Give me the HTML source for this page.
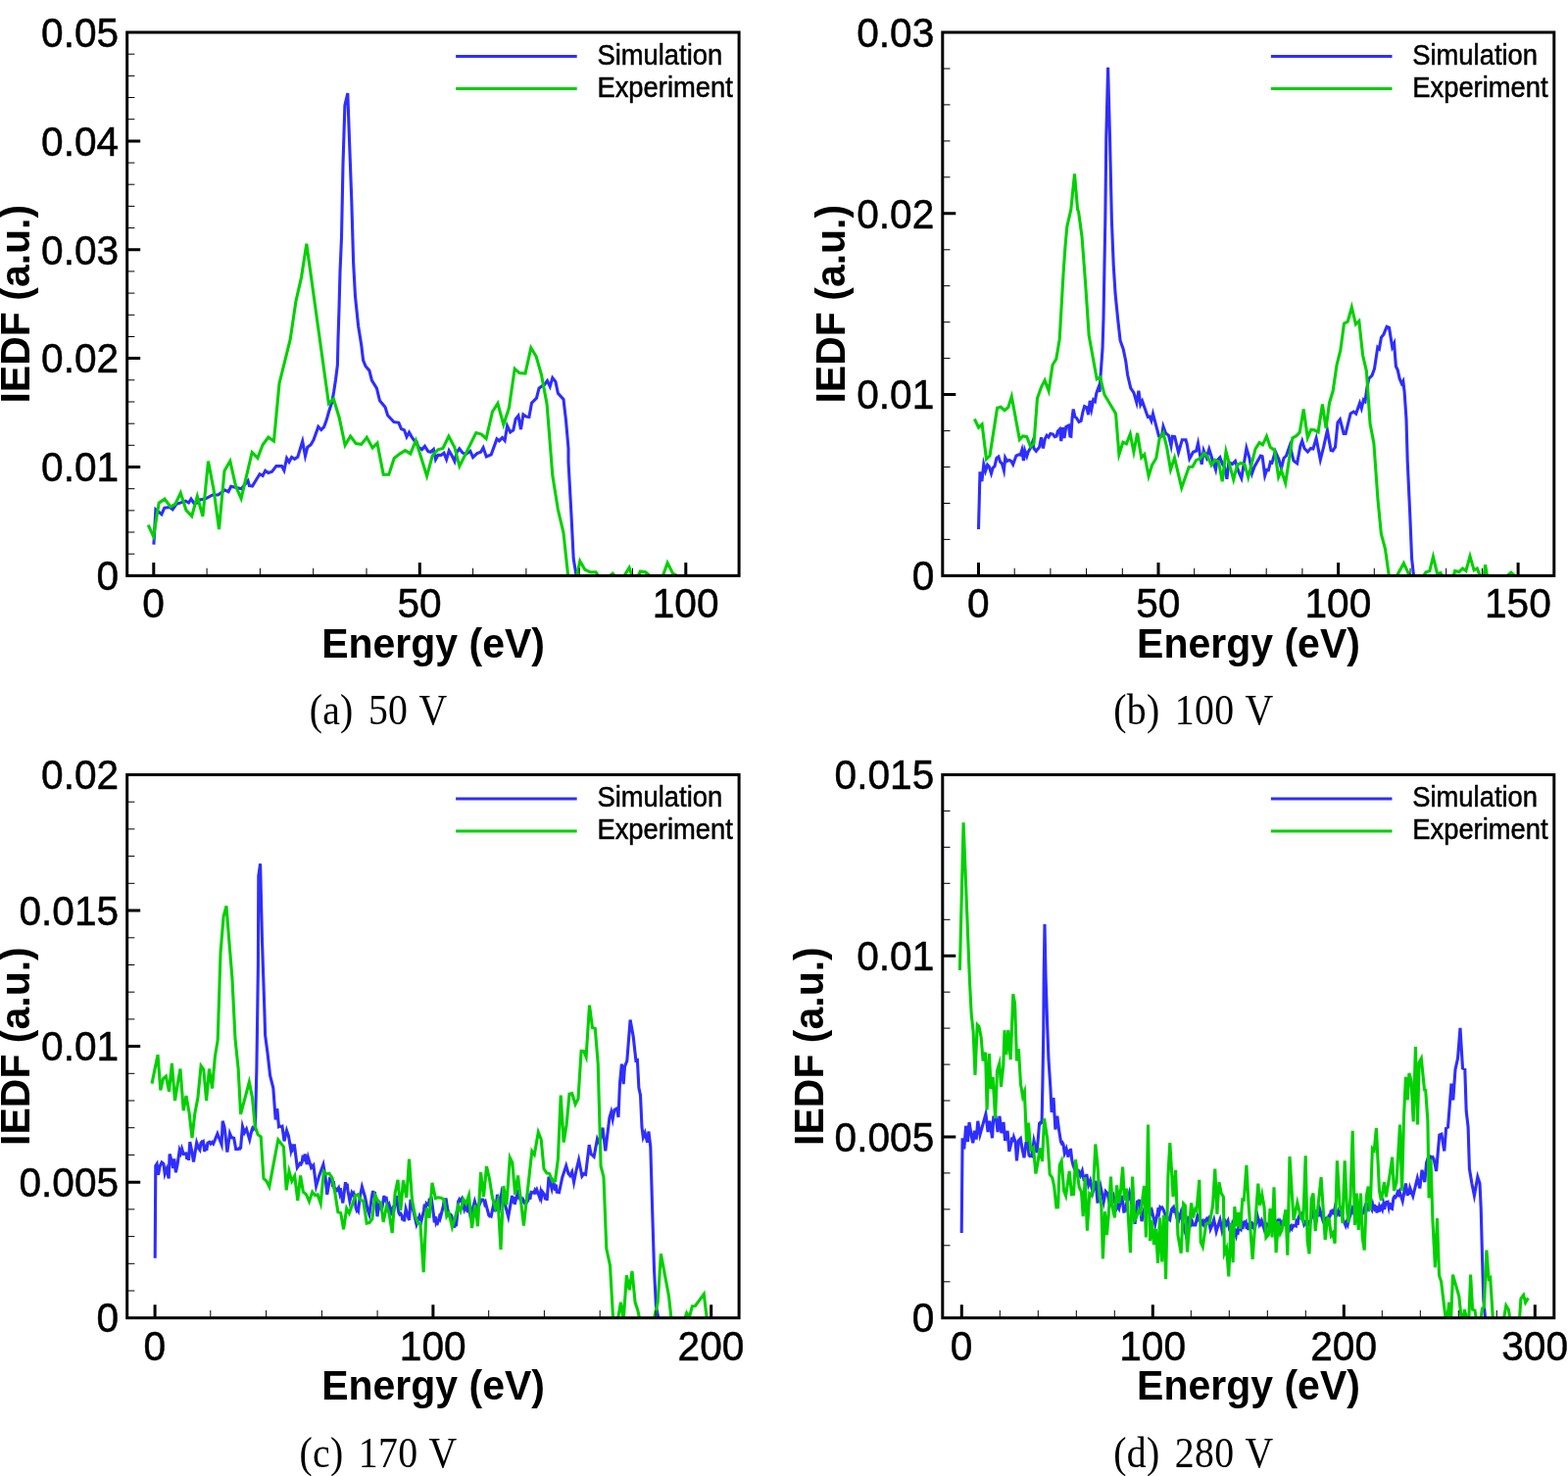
<!DOCTYPE html>
<html lang="en">
<head>
<meta charset="utf-8">
<title>IEDF: simulation vs experiment</title>
<style>
html,body{margin:0;padding:0;background:#fff;}
body{width:1600px;height:1506px;overflow:hidden;}
svg{display:block;}
text{font-family:"Liberation Sans",sans-serif;fill:#000;}
.tk,.lg{stroke:#000;stroke-width:0.5px;}
.tk{font-size:41.5px;}
.ax{font-size:41.5px;font-weight:bold;}
.lg{font-size:27.8px;}
.cp{font-family:"Liberation Serif",serif;font-size:41.0px;}
.fr{fill:none;stroke:#000;stroke-width:3;}
.mj{stroke:#000;stroke-width:3;fill:none;}
.mn{stroke:#000;stroke-width:1;fill:none;}
.sim{fill:none;stroke:#2e2eff;stroke-width:3.1;stroke-linejoin:miter;stroke-miterlimit:5.5;}
.exp{fill:none;stroke:#00d000;stroke-width:3.1;stroke-linejoin:miter;stroke-miterlimit:5.5;}
</style>
</head>
<body>
<svg role="img" aria-label="IEDF simulation versus experiment at four bias voltages" width="1600" height="1506" viewBox="0 0 1600 1506">
<rect x="0" y="0" width="1600" height="1506" fill="#fff"/>
<g id="panel-a">
<clipPath id="clip-a"><rect x="129.7" y="33" width="624.4" height="554.4"/></clipPath>
<path class="sim" clip-path="url(#clip-a)" d="M156.9 555.6 158.9 519.8 164.9 524.7 167.8 518.1 173.1 517.5 176.2 519.8 180 514.4 183.8 513.1 189.4 511.2 192.5 513 195 509.1 198.1 513.7 201.2 513.1 203.8 510 207.5 509.4 211.2 508.1 216.9 505 222.5 505 229.4 500 233.1 501.7 235.7 496.3 241.2 497.5 246.2 498.7 253 490.5 254.4 495.6 257.5 496 265 483.7 268.1 485.4 270.7 480.3 273.8 482.5 277.5 481.2 281.9 475.6 287.5 475.6 289.9 480 292.6 467.5 295 471.4 297.6 466.5 300.6 468.4 303.8 466.2 308.7 450.2 311.5 465.2 313.8 456.2 317.2 453.8 320 448.8 324.8 435.4 327.8 438.5 330.6 435.6 333.1 428.8 335.6 420 338.8 410 340.6 400 342.5 387.5 344.4 372.5 345 346.2 346 315 347 277.5 348.5 242.5 350 167.5 351.9 107.5 354.8 95 356.5 142.5 358.8 205 360.6 267.5 362.5 302.5 365.6 332.5 368.8 352.5 370.6 367.5 373.1 373.8 376.9 378.1 379.4 388.1 384.4 396.2 387.5 408.8 393.1 415.6 395.6 423.8 401.9 430.6 406.9 431.3 409.4 437.5 412.5 438.8 415 445.7 417.5 441.1 420 445.6 422.5 449.4 425 450.6 426.9 456.2 430.6 458.6 433.5 455.3 436.9 460.6 439.4 461.2 442.4 458.5 444.5 468.8 446.9 464.4 450 464.4 453 462.2 455.6 468.7 458.2 459.9 461.2 465 463.9 470.6 466.2 461.2 468.8 457.8 471.9 461.9 475 463.7 479.9 460.3 482.6 466.5 486.9 462.5 490.6 461.2 493.1 456.8 496.3 466 501.2 463.8 507 447.9 509.4 449.8 512.5 446.5 515.1 449.5 517.6 434.5 520.7 441 523.8 438.8 526.2 427.5 528.9 424.2 531.5 438.1 533.9 422.9 536.9 425 539.9 425.5 542.5 411.2 547.5 406.2 550 396.2 553.1 393.8 555.6 392.5 558.5 388.6 561.2 394.4 563.8 385.5 566.9 389.4 569.4 401.2 575 407.5 577.5 428.8 580 457.5 580 471.2 583.1 527.5 585.2 570 588.1 587.5"/>
<path class="exp" clip-path="url(#clip-a)" d="M151.2 535.6 156.6 547.2 162.2 513.1 168 509.1 173.9 517 178.8 514.4 184.3 503 190 520.6 195.7 526.7 201.3 506.3 206.9 526.9 212.5 470.6 218.1 500 223.5 540 229 480.6 234.8 470.5 240.6 496.2 246.1 508.6 257.2 461.5 262.9 467.4 268.1 453.8 273.8 446.2 279.5 450 285 391.2 296.2 346.2 301.9 307.5 307.5 283.1 312.8 248.8 335.4 411.6 340.4 407 346.2 426.2 352.1 454.3 357.6 445 363.1 452.5 368.7 453.4 374.3 446.3 380.1 456.9 385 452.1 391.2 484.1 396.8 484.2 402.2 467.5 407.9 463.1 413.5 459.6 418.8 462.9 424.3 449.5 435.6 485.8 441.2 465 446.9 458.8 451.9 457.5 457.9 445.2 463.8 456.2 468.9 475.7 485.8 441.6 491.2 443.1 496.1 447.5 502.5 420 507.9 411.6 513.8 433.3 519.4 416.2 525.2 376.3 530 380.6 536 381.1 541.8 354.9 547.2 363.8 552.5 382.5 558.1 412.5 563.8 485 569.4 520 575 543.8 580.6 596.2 585.6 601.1 591.8 572.5 596.9 581.2 602.5 583.8 608.1 583.8 613.9 593.2 619.4 590 625.2 585.1 630.7 592 636.2 588.8 642.1 579.1 647.6 595.6 653.3 583 658.8 583.8 664.4 588.8 670 595.5 675.6 590 681.1 574.2 686.5 585 691.9 588.1"/>
<path class="mn" d="M211.1 587.4v-7.7M265.4 587.4v-7.7M319.7 587.4v-7.7M374 587.4v-7.7M482.6 587.4v-7.7M536.9 587.4v-7.7M591.2 587.4v-7.7M645.5 587.4v-7.7M129.7 565.2h7.7M129.7 543h7.7M129.7 520.9h7.7M129.7 498.7h7.7M129.7 454.3h7.7M129.7 432.2h7.7M129.7 410h7.7M129.7 387.8h7.7M129.7 343.5h7.7M129.7 321.3h7.7M129.7 299.1h7.7M129.7 276.9h7.7M129.7 232.6h7.7M129.7 210.4h7.7M129.7 188.2h7.7M129.7 166.1h7.7M129.7 121.7h7.7M129.7 99.5h7.7M129.7 77.4h7.7M129.7 55.2h7.7"/>
<path class="mj" d="M156.8 587.4v-13.5M428.3 587.4v-13.5M699.8 587.4v-13.5M129.7 476.5h13.5M129.7 365.6h13.5M129.7 254.8h13.5M129.7 143.9h13.5"/>
<rect class="fr" x="129.7" y="33" width="624.4" height="554.4"/>
<text class="tk" text-anchor="middle" transform="translate(156.6 630.4) scale(0.98 1.04)">0</text>
<text class="tk" text-anchor="middle" transform="translate(428.1 630.4) scale(0.98 1.04)">50</text>
<text class="tk" text-anchor="middle" transform="translate(699.6 630.4) scale(0.98 1.04)">100</text>
<text class="tk" text-anchor="end" transform="translate(121.2 602.1) scale(0.98 1.04)">0</text>
<text class="tk" text-anchor="end" transform="translate(121.2 491.2) scale(0.98 1.04)">0.01</text>
<text class="tk" text-anchor="end" transform="translate(121.2 380.3) scale(0.98 1.04)">0.02</text>
<text class="tk" text-anchor="end" transform="translate(121.2 269.5) scale(0.98 1.04)">0.03</text>
<text class="tk" text-anchor="end" transform="translate(121.2 158.6) scale(0.98 1.04)">0.04</text>
<text class="tk" text-anchor="end" transform="translate(121.2 47.7) scale(0.98 1.04)">0.05</text>
<text class="ax" text-anchor="middle" transform="translate(442.1 670.8) scale(0.988 1.03)">Energy (eV)</text>
<text class="ax" text-anchor="middle" transform="translate(30 310.2) rotate(-90) scale(0.988 1.03)">IEDF (a.u.)</text>
<path class="sim" style="stroke-width:3" d="M465.1 57.5H588.7"/>
<path class="exp" style="stroke-width:3" d="M465.1 90.5H588.7"/>
<text class="lg" transform="translate(609.4 65.7) scale(0.985 1.05)">Simulation</text>
<text class="lg" transform="translate(609.4 98.6) scale(0.985 1.05)">Experiment</text>
<text class="cp" text-anchor="middle" transform="translate(384.9 739.4) scale(0.97 1.08)" word-spacing="4" letter-spacing="0.3"><tspan dx="1.2">(a)</tspan> <tspan dx="1.2">50</tspan> <tspan dx="-3">V</tspan></text>
</g>
<g id="panel-b">
<clipPath id="clip-b"><rect x="961.8" y="33" width="624" height="554.4"/></clipPath>
<path class="sim" clip-path="url(#clip-b)" d="M998.5 540 1000 481.2 1001.9 491.2 1003.8 473.8 1005.6 480.5 1007.6 474.2 1009.4 476.2 1011.5 483 1013.1 477.5 1015 475.6 1016.9 467.5 1018.9 466 1020.6 471.2 1022.5 473.1 1024.4 480 1025.7 467 1027.6 470.5 1030 469.4 1031.9 470.6 1033.7 473.9 1036.9 465 1039.4 463.8 1041.2 464.2 1042.8 459.1 1044.4 470 1045.7 459.7 1047.8 465.5 1049.4 460.6 1051.2 457.5 1053.7 450.8 1055 457.5 1057.3 460.3 1060.6 456.2 1062.5 446.2 1064.4 457.5 1066.2 448.1 1068.2 444.2 1070 445.9 1071.9 442.6 1074.4 443.1 1076.3 445.6 1078.1 445 1079.4 440 1081.3 438 1082.8 450 1084.4 436.2 1086 446.9 1087.8 435.6 1090.5 434.1 1091.9 445 1092.9 445.3 1094 427.5 1095.2 417.5 1096.9 425 1098.8 426.9 1101 430.5 1103.1 429.4 1105 420 1106.6 414.6 1108.8 415.6 1110.6 423.1 1112.2 408.8 1113.8 417.5 1115.7 408 1117.4 409.5 1118.8 401.2 1121.2 394.6 1122 400 1123.1 382.5 1125 356.2 1126 325 1126.9 275 1127.8 225 1128.8 140 1130.6 68.8 1132.5 140 1134.4 225 1136.2 270 1138.1 300 1140.6 325 1143.1 347.5 1146.2 356.2 1148.8 368.8 1150.6 382.5 1153.8 396.2 1156.9 400.6 1159.9 410.9 1161.9 398.8 1163.8 412.9 1165.6 409.3 1171.3 425.5 1173.1 425.1 1174.9 429.3 1176.5 422.2 1182.5 444.9 1185.5 444.9 1187 435.3 1189.4 441.9 1192.5 444.4 1195 455 1196.4 445.2 1198.7 445.6 1202.5 461.7 1206.3 448.8 1210 448.8 1211.2 453.1 1213.8 468.1 1217.5 461.2 1220.6 460 1222.5 452.3 1226.2 473.8 1228.2 459.6 1231.2 466.8 1233.8 458.2 1237.5 470 1240.5 479.1 1241.9 470 1244.9 466.7 1247.5 473.8 1249.4 476.2 1251.9 488.8 1253.9 471.6 1257.5 473.6 1260.5 470.4 1263.8 481.2 1266.8 488 1268.8 476.2 1271.9 457.2 1275 467.5 1277.6 482.9 1280 476.2 1286.3 465.1 1288.1 465.6 1290.7 485.3 1292.6 479.5 1294.3 479.8 1296.4 471.5 1298 472.2 1301.3 460.6 1305 468.8 1307.5 477.9 1310 467.5 1312.5 465 1316.2 454.5 1320 470 1323.6 472.7 1326.9 455 1328.7 450 1331 457.5 1334.4 461 1337.5 457.5 1339.9 458 1343.1 447.2 1347.3 469.1 1350.6 456.2 1354.4 439.1 1358.1 459.4 1360 459.9 1362.5 456.2 1365 431.2 1367.4 428 1371.1 442.4 1373.1 442.4 1378.1 421.9 1381.2 420.1 1383.7 422.1 1387.5 411.3 1389.3 416.6 1391.4 408 1393 409.5 1395 395 1396.9 386.2 1400 383.1 1402.5 376.2 1405.8 354.3 1407.4 355.8 1409.4 344.4 1411.9 341.2 1415.1 333.3 1417.5 334.4 1420.7 354.2 1422.6 350.3 1424.4 373.8 1426.2 377.5 1428.1 386.2 1430.3 391.4 1431.8 388.9 1433.1 400 1435 427.5 1436.2 470 1438.8 526.2 1440.6 570 1442.5 587.5"/>
<path class="exp" clip-path="url(#clip-b)" d="M994.4 427.5 998.6 436.2 1002.1 433 1006.5 468.5 1010 465 1017.6 416.3 1021.2 415.3 1025 418.8 1028.8 415.6 1032.3 404.6 1040.4 448.5 1043.8 445 1047.8 445.7 1051.5 455.6 1055 452.5 1058.5 406.2 1062.5 395 1066.1 388.1 1070.1 398.8 1074 372.5 1077.8 366.2 1081.2 346.2 1085 280 1086.9 252.5 1088.8 231.2 1092.8 213.8 1096.5 177.5 1099.6 213.8 1100.6 216.2 1104 241.2 1107.5 287.5 1111.2 342.5 1119.2 386.7 1122.7 385 1126.9 402.5 1138.5 421.9 1141.9 463.8 1145.9 451.2 1149.4 452.8 1153.3 442.8 1156.9 461.2 1160.6 441.9 1164.7 466.9 1167.8 463.7 1172.1 485.8 1175.6 474.4 1179.8 467.5 1183.1 447.5 1187 441.7 1190.6 456.2 1194.5 479.3 1198.5 467.1 1205.7 497.7 1213.2 476.4 1216.9 476.2 1220.6 469.4 1224.4 468.1 1228.6 462.6 1232.2 465.6 1236.1 474.7 1239.9 469.3 1243.5 471.2 1247.2 491.2 1251 460.6 1258.7 489.3 1262.5 474.4 1266.2 472.5 1270 473.8 1273.7 486.9 1281 458.1 1285.1 451.6 1288.5 453.8 1292.5 445.2 1296.2 456.2 1300.6 459.4 1304.6 486.8 1307.5 480 1311.7 493.1 1318.8 446.9 1322.5 445 1326.2 441.2 1330.2 417.5 1334.3 446.6 1337.7 438.4 1341.2 438.8 1345.1 440.8 1349.4 412.5 1353.1 436.9 1356.5 411.2 1360.2 398.8 1364 372.5 1367.8 357.5 1371.5 330 1375.2 328.1 1379.3 313.5 1383.4 330.8 1386.8 327.5 1390.6 362.5 1394.4 378.8 1398.1 432.5 1401.9 452.5 1406 510 1409.4 545 1413.5 560 1417.5 588.8 1421.2 593.8 1425 588.1 1432.4 574.6 1440 591.2 1443.8 594.7 1447.5 592.5 1451.2 590 1455 583.8 1458.8 582.5 1462.4 568 1466.7 585.8 1470 584.5 1473.8 592.5 1477.5 595 1481.1 594.8 1484.7 582.5 1488.7 583.6 1492.5 580 1495.9 582.4 1500 567.4 1504.1 581.8 1507.3 580 1511.2 590 1513.4 593.4 1515.6 576.2 1517.8 590 1521.2 595 1533.7 595 1537.5 588.1 1541.9 584.2 1546.2 588.1 1550 595"/>
<path class="mn" d="M1035.2 587.4v-7.7M1071.9 587.4v-7.7M1108.6 587.4v-7.7M1145.3 587.4v-7.7M1218.7 587.4v-7.7M1255.4 587.4v-7.7M1292.2 587.4v-7.7M1328.9 587.4v-7.7M1402.3 587.4v-7.7M1439 587.4v-7.7M1475.7 587.4v-7.7M1512.4 587.4v-7.7M961.8 550.4h7.7M961.8 513.5h7.7M961.8 476.5h7.7M961.8 439.6h7.7M961.8 365.6h7.7M961.8 328.7h7.7M961.8 291.7h7.7M961.8 254.8h7.7M961.8 180.8h7.7M961.8 143.9h7.7M961.8 106.9h7.7M961.8 70h7.7"/>
<path class="mj" d="M998.5 587.4v-13.5M1182 587.4v-13.5M1365.6 587.4v-13.5M1549.1 587.4v-13.5M961.8 402.6h13.5M961.8 217.8h13.5"/>
<rect class="fr" x="961.8" y="33" width="624" height="554.4"/>
<text class="tk" text-anchor="middle" transform="translate(998.3 630.4) scale(0.98 1.04)">0</text>
<text class="tk" text-anchor="middle" transform="translate(1181.8 630.4) scale(0.98 1.04)">50</text>
<text class="tk" text-anchor="middle" transform="translate(1365.4 630.4) scale(0.98 1.04)">100</text>
<text class="tk" text-anchor="middle" transform="translate(1548.9 630.4) scale(0.98 1.04)">150</text>
<text class="tk" text-anchor="end" transform="translate(953.3 602.1) scale(0.98 1.04)">0</text>
<text class="tk" text-anchor="end" transform="translate(953.3 417.3) scale(0.98 1.04)">0.01</text>
<text class="tk" text-anchor="end" transform="translate(953.3 232.5) scale(0.98 1.04)">0.02</text>
<text class="tk" text-anchor="end" transform="translate(953.3 47.7) scale(0.98 1.04)">0.03</text>
<text class="ax" text-anchor="middle" transform="translate(1274 670.8) scale(0.988 1.03)">Energy (eV)</text>
<text class="ax" text-anchor="middle" transform="translate(861.8 310.2) rotate(-90) scale(0.988 1.03)">IEDF (a.u.)</text>
<path class="sim" style="stroke-width:3" d="M1296.9 57.5H1420.5"/>
<path class="exp" style="stroke-width:3" d="M1296.9 90.5H1420.5"/>
<text class="lg" transform="translate(1441.2 65.7) scale(0.985 1.05)">Simulation</text>
<text class="lg" transform="translate(1441.2 98.6) scale(0.985 1.05)">Experiment</text>
<text class="cp" text-anchor="middle" transform="translate(1216.8 739.4) scale(0.97 1.08)" word-spacing="4" letter-spacing="0.3"><tspan dx="1.2">(b)</tspan> <tspan dx="1.2">100</tspan> <tspan dx="-3">V</tspan></text>
</g>
<g id="panel-c">
<clipPath id="clip-c"><rect x="129.7" y="790.5" width="624.4" height="554.2"/></clipPath>
<path class="sim" clip-path="url(#clip-c)" d="M158.2 1283.8 158.8 1189.4 160.1 1187.5 161.5 1198.8 163.1 1190 165.1 1185.9 166.9 1187.5 168.2 1197.7 170 1192.7 172.2 1202.5 173.1 1177.5 175 1183.8 176.5 1191.9 177.8 1182.5 179.4 1196.2 181.2 1187.5 183.2 1173.5 184.4 1176.6 185.6 1172.1 187.3 1177.4 189.9 1177 190.8 1182.7 191.7 1177.9 192.5 1183.8 193.8 1165 195.6 1173.8 197.5 1185.6 200.7 1165.9 202.5 1171.2 203.9 1173.2 205 1166.2 205.9 1165.1 206.6 1165.6 207.4 1164.9 208.8 1175 209.8 1167.6 210.8 1173.7 211.9 1166.2 213.7 1165.2 215 1167.1 216.5 1165.4 217.7 1167 221.9 1156.8 226.1 1167.7 227.2 1143.8 229 1150 230.2 1160 231.9 1175.6 234.5 1156.4 236.2 1160.6 238.7 1161.3 240.7 1172.4 243.1 1172.5 244 1171.7 244.8 1172.1 245.6 1171.2 247.5 1149.4 249.4 1155.7 251.5 1151.9 254.7 1162.9 256.9 1153.1 257.7 1151.1 258.5 1152.1 259.4 1150.5 260.4 1151.7 261.9 1090 263.4 985 263.8 893.8 265.6 881.2 267.5 960 270 1035 270.6 1056.2 273.1 1075 275.6 1097.5 278.8 1110 281.2 1142.5 282.8 1131.2 284.5 1149.6 285.6 1149 286.9 1149.7 288 1149.2 290 1164.4 292.5 1153.3 294.4 1158.8 296.9 1173.8 297.7 1170.4 298.5 1172.1 299.4 1168.8 300.5 1168.8 303.3 1191.3 305 1188.8 306.1 1187.1 307.1 1187.9 308.1 1186.2 309.2 1178.8 310.2 1184.9 311.2 1177.5 313.1 1188.1 314.4 1180.9 317.5 1191.2 318.4 1189.8 319.1 1190.8 319.9 1189.6 322.6 1210.2 325.6 1200 329.9 1188.3 331.9 1200 333.8 1218.8 336.4 1202.9 337.1 1203.3 337.9 1202.9 338.8 1203.8 339.6 1211.2 340.4 1205.1 341.2 1212.5 342.1 1214.1 342.9 1213.4 343.8 1214.5 345.5 1211.9 346.5 1216.6 347.3 1212.2 348.1 1217.5 349.8 1227.5 352.5 1206.2 353.3 1213.7 354.2 1207.6 355 1215 356.9 1225.2 359 1217 360 1218.8 360.9 1217.4 361.9 1220 363.1 1232.5 364 1235 364.8 1233.8 365.6 1235.3 367.5 1220 369.4 1210.9 372.5 1221.2 375 1233.8 376.8 1239.1 379.4 1221.2 380.6 1215 381.5 1220.3 382.3 1215.9 383.1 1221.2 385 1241.2 386.9 1227.5 387.7 1233.9 388.5 1228.6 389.4 1235 391.9 1220 392.9 1226.4 394 1221.1 395 1227.5 396.1 1231 397.1 1229 398.1 1232.5 399.2 1236.9 400.2 1234.3 401.2 1238.8 404.4 1220 406.9 1237.5 407.9 1239.2 408.9 1238.3 410 1240 410.8 1245.3 411.7 1240.9 412.5 1246.2 414.1 1233.5 417.5 1245 419 1223.8 421.9 1236.2 425 1249.3 428.1 1240.7 430 1245.5 432.5 1235 433.3 1228.6 434.2 1233.9 435.1 1228.2 435.9 1229.1 436.6 1228.4 437.4 1229.3 438.3 1222.6 439.2 1228.7 440 1221.2 442.5 1240 443.3 1247.4 444.2 1241.3 445.1 1247.8 445.9 1246.3 446.6 1247.5 447.5 1245 448.4 1241.7 449.1 1243.3 450 1240 452.5 1230 453.3 1223.6 454.2 1228.9 455 1222.5 457.5 1238.8 458.5 1239.7 459.6 1239.1 460.6 1240 463.8 1252.5 464.6 1245.1 465.4 1251.2 466.2 1243.8 467.5 1226.2 468.8 1223.6 470 1225.2 471.2 1223.2 473.8 1234.1 474.8 1231.5 475.8 1233.5 476.9 1230 477.7 1237.4 478.5 1231.3 479.5 1237.8 480.2 1236.3 481 1237.5 481.9 1235 484.4 1225.8 486.9 1234.4 491.3 1224.2 492.1 1224.6 492.9 1224.2 493.8 1225 494.6 1228.3 495.4 1226.7 496.2 1230 498.8 1240 499.6 1240.8 500.4 1240.4 501.2 1240.9 503.8 1228.5 505.6 1236.2 507.5 1218.8 510 1230 511.9 1217.2 515 1227.5 518.7 1241.6 522.5 1220 523.4 1227.4 524.3 1221.3 525.2 1228.8 528.1 1217.2 529.2 1220.7 530.2 1218.1 531.2 1222.5 532.5 1226.1 533.7 1223.9 535.1 1227 536.3 1225.7 537.5 1226.8 538.8 1225 539.8 1217.6 540.8 1223.7 542 1216.7 542.9 1217.2 544 1216.6 544.9 1217.1 545.9 1214.5 546.8 1216.1 547.8 1213.9 550.6 1221.7 551.6 1216.7 552.5 1221.5 553.6 1216.1 555.6 1218.8 556.5 1224.1 557.3 1219.7 558.1 1225 560 1200.6 563.1 1212.8 564 1208.4 564.8 1212.8 565.6 1207.5 566.5 1214.9 567.3 1208.8 568.2 1216.2 570.5 1216.7 573.8 1201.2 577.7 1189.5 580 1197.5 581.8 1199.6 583.7 1195.7 585.6 1206.2 588.1 1193.8 590.6 1183.5 593.9 1200.1 595.7 1197.7 597.6 1198.4 601.2 1168.1 603.1 1177.5 606.1 1180.2 609.5 1162 611.8 1166.8 615 1150.6 617.8 1174.4 621.9 1140.6 623.7 1134.6 625.2 1141.9 626.9 1132.5 629.6 1130.9 631 1140 632.5 1105 634.4 1085.6 636.2 1106.2 637.5 1088.1 639.8 1082.5 643.1 1040.6 646.2 1057.5 648.9 1082.1 650.4 1081.6 651.9 1110 653.5 1117.5 655 1150 656.3 1160.3 658.1 1155.8 660.6 1165.6 661.9 1154.4 663.8 1170 665.6 1232.5 667.5 1295 669.4 1332.5 671.9 1345"/>
<path class="exp" clip-path="url(#clip-c)" d="M155 1105.6 161 1076.2 163.8 1112.5 166.5 1100.6 169.4 1098.2 172.5 1113.8 175.4 1085 178.5 1123.1 181.2 1106.2 184 1090.6 187.2 1133.1 190 1118.1 193.1 1135.6 196 1161.2 198.8 1136.2 201.9 1120 205.1 1087.5 207.8 1091.2 210.6 1123.1 213.5 1090.6 216.5 1110.6 219.4 1078.1 222.2 1061.2 225 972.5 228.1 935 231 924.4 233.8 960 236.9 997.5 240 1060 243.1 1090 245.6 1136.9 254.3 1104.1 257.5 1120 260.2 1148.8 263.1 1157.5 266.2 1160 269 1202.5 271.9 1205 274.8 1210.9 283.8 1162.8 289.4 1170 292.2 1214.4 295 1195 297.8 1205.2 300.7 1199.8 303.8 1225 306.6 1199.4 309.4 1216.2 312.5 1218.8 315.5 1225.8 318.7 1216.2 321.4 1219.5 324.1 1218.9 327.2 1228 330.4 1195.3 333.2 1197.9 335.9 1197.2 339 1201.9 341.9 1217.5 344.9 1236.8 347.7 1237.6 350.6 1254.4 353.7 1233 356.3 1237.9 359.4 1229.4 362.5 1220 365.4 1218.8 368.3 1224.7 370.7 1224.9 374.2 1248.1 376.9 1247.5 379.8 1243.8 382.8 1219.8 385.6 1225 388.5 1227.5 391.2 1246.9 394.5 1230.3 397.2 1238.8 400.2 1258.1 403.1 1217.5 406 1203.8 408.8 1235 411.5 1204.4 414.8 1221.9 417.5 1182.5 420.6 1225 423.5 1240 426.7 1248.2 428.9 1248.3 432.2 1298.1 435.2 1232.5 438.1 1242.5 441 1206.9 444.4 1222.8 446.9 1221.9 450 1222.2 453.1 1223.8 455.8 1241 458 1237.7 461.4 1252.1 464.4 1242.5 467.5 1230.2 469.9 1235.7 472.9 1223.7 475.6 1228 478.5 1219.4 481.5 1253.1 484.8 1229.4 487.5 1251.2 490.6 1196.2 493.5 1221.2 496.5 1190 499.4 1202.5 502.5 1222.5 505.6 1232.6 508.1 1225 511 1275 513.8 1210 516.9 1229.4 520.3 1181.1 522.8 1186.2 525.6 1218.8 528.5 1199.4 534.4 1250.6 542.8 1174.5 545.3 1178.1 549.3 1155.2 552.2 1162.5 555 1192.5 557.8 1196.9 560.6 1197.5 564 1205.7 566.5 1205 569.4 1182.5 572.2 1117.5 575.2 1165.6 578.1 1147.5 581 1116.3 583.7 1115.6 587.1 1126.8 590 1121.2 593.1 1072.4 595.6 1072.5 598.1 1078.5 601.5 1025.6 604.5 1048.6 607.3 1049.5 610.2 1085 613.1 1190 616 1201.2 618.8 1273.8 622.5 1291.2 625.6 1345 628.1 1354.6 630.6 1345 633.5 1328.8 636.2 1347.5 639.4 1301.2 642.2 1316.2 645 1296.9 648.1 1328.8 650.6 1336.2 653.1 1347.5 660 1356.6 666.9 1347.5 671.2 1328.8 674.4 1279.4 682.5 1322.5 685.2 1347.5 692.4 1356.4 698.1 1347.5 700.7 1339.6 703.4 1344 706.4 1332.7 709.4 1332.5 718.3 1320.4 721.5 1347.5"/>
<path class="mn" d="M214.8 1344.7v-7.7M271.6 1344.7v-7.7M328.4 1344.7v-7.7M385.1 1344.7v-7.7M498.7 1344.7v-7.7M555.4 1344.7v-7.7M612.2 1344.7v-7.7M669 1344.7v-7.7M129.7 1317h7.7M129.7 1289.3h7.7M129.7 1261.6h7.7M129.7 1233.9h7.7M129.7 1178.4h7.7M129.7 1150.7h7.7M129.7 1123h7.7M129.7 1095.3h7.7M129.7 1039.9h7.7M129.7 1012.2h7.7M129.7 984.5h7.7M129.7 956.8h7.7M129.7 901.3h7.7M129.7 873.6h7.7M129.7 845.9h7.7M129.7 818.2h7.7"/>
<path class="mj" d="M158.1 1344.7v-13.5M441.9 1344.7v-13.5M725.7 1344.7v-13.5M129.7 1206.2h13.5M129.7 1067.6h13.5M129.7 929.1h13.5"/>
<rect class="fr" x="129.7" y="790.5" width="624.4" height="554.2"/>
<text class="tk" text-anchor="middle" transform="translate(157.9 1387.7) scale(0.98 1.04)">0</text>
<text class="tk" text-anchor="middle" transform="translate(441.7 1387.7) scale(0.98 1.04)">100</text>
<text class="tk" text-anchor="middle" transform="translate(725.5 1387.7) scale(0.98 1.04)">200</text>
<text class="tk" text-anchor="end" transform="translate(121.2 1359.4) scale(0.98 1.04)">0</text>
<text class="tk" text-anchor="end" transform="translate(121.2 1220.9) scale(0.98 1.04)">0.005</text>
<text class="tk" text-anchor="end" transform="translate(121.2 1082.3) scale(0.98 1.04)">0.01</text>
<text class="tk" text-anchor="end" transform="translate(121.2 943.8) scale(0.98 1.04)">0.015</text>
<text class="tk" text-anchor="end" transform="translate(121.2 805.2) scale(0.98 1.04)">0.02</text>
<text class="ax" text-anchor="middle" transform="translate(442.1 1428.1) scale(0.988 1.03)">Energy (eV)</text>
<text class="ax" text-anchor="middle" transform="translate(30 1067.6) rotate(-90) scale(0.988 1.03)">IEDF (a.u.)</text>
<path class="sim" style="stroke-width:3" d="M465.1 815H588.7"/>
<path class="exp" style="stroke-width:3" d="M465.1 848H588.7"/>
<text class="lg" transform="translate(609.4 823.2) scale(0.985 1.05)">Simulation</text>
<text class="lg" transform="translate(609.4 856.1) scale(0.985 1.05)">Experiment</text>
<text class="cp" text-anchor="middle" transform="translate(384.9 1496.7) scale(0.97 1.08)" word-spacing="4" letter-spacing="0.3"><tspan dx="1.2">(c)</tspan> <tspan dx="1.2">170</tspan> <tspan dx="-3">V</tspan></text>
</g>
<g id="panel-d">
<clipPath id="clip-d"><rect x="961.8" y="790.5" width="624" height="554.2"/></clipPath>
<path class="sim" clip-path="url(#clip-d)" d="M981.2 1258.1 982.1 1161.2 983.8 1172.5 985.6 1148.8 987.5 1165 989 1145 991.2 1158.8 992.8 1166.2 994.4 1153.8 996.2 1162.5 997.8 1143.8 1000 1157.8 1002.5 1148.8 1005.9 1136.7 1008.1 1155 1010 1143.8 1012.5 1161.2 1013.8 1140.1 1016.2 1140.1 1018.1 1155 1020 1138.8 1021.9 1156.2 1024 1145 1025.6 1163.8 1028.1 1153.8 1029.8 1175 1031.9 1166.2 1032.7 1160.4 1033.5 1165.2 1034.5 1160.2 1036.2 1165 1037.5 1184.4 1039.4 1163.8 1041.4 1161.7 1043.1 1172.5 1045 1181.2 1046.9 1166.2 1048.4 1164.3 1050 1178.8 1051 1179.7 1052.1 1179.1 1053 1179.6 1055 1163.8 1058.1 1176.2 1060.6 1146.2 1061.5 1145.4 1062.3 1145.8 1063.1 1145 1064 1100 1064.8 1050 1065.2 995 1066 943.1 1067 995 1068.8 1050 1070 1081.2 1071.9 1110 1073.1 1135 1075 1120 1076.9 1152.5 1078.8 1138.8 1080.6 1153.1 1082.5 1165 1083.4 1166.6 1084.1 1165.9 1085 1167.5 1086.3 1176.6 1088.1 1172 1090 1180.6 1090.8 1173.2 1091.7 1179.3 1092.5 1171.9 1093.8 1183.8 1095 1188.8 1095.9 1191.2 1096.6 1190 1097.5 1192.5 1098.4 1194.1 1099.1 1193.4 1100 1195 1100.9 1198.3 1101.6 1196.7 1102.5 1199.2 1104.3 1194.6 1106.2 1205 1107.1 1199.2 1107.9 1204 1108.8 1198.1 1110.7 1209.1 1112.5 1204.6 1115 1216.6 1118.1 1205 1120 1227.5 1123.1 1211.1 1126.2 1226.2 1128.2 1215.5 1130 1217.5 1132.6 1229.3 1136.1 1220.8 1137.1 1227.4 1137.9 1221.3 1138.8 1228.8 1139.8 1232.3 1140.8 1230.2 1141.9 1232.9 1145 1220 1146.9 1237.5 1147.7 1230.1 1148.5 1236.2 1149.4 1228.8 1152.5 1217.2 1155 1230 1158.1 1248.8 1160 1230 1160.8 1224.7 1161.7 1229.1 1162.5 1223.8 1165 1246.2 1167.6 1234.4 1168.6 1235.4 1169.6 1234.6 1170.6 1235.8 1171.7 1234.6 1172.7 1235.4 1173.7 1234.4 1174.6 1237.1 1175.4 1235.4 1176.2 1238.8 1178.7 1249.1 1181.2 1237.5 1182.1 1232.2 1182.9 1236.6 1183.8 1231.9 1184.8 1232.9 1185.8 1232.1 1186.9 1233.8 1188.8 1238.8 1189.6 1241.2 1190.4 1240 1191.2 1242.5 1192.1 1244.1 1192.9 1243.4 1193.7 1244.3 1195.6 1233.8 1197.4 1231.8 1198.3 1237.6 1199.2 1232.4 1200 1238.8 1201.1 1243.2 1202.1 1240.6 1203.1 1244 1205 1237.2 1207.5 1250 1209.9 1259 1212.6 1243.2 1213.4 1244.1 1214.1 1243.4 1215 1245 1215.9 1248.3 1216.6 1246.7 1217.6 1249.9 1219.9 1249.9 1221.9 1240.9 1222.9 1243.5 1223.9 1241.5 1225 1245 1226.1 1248.5 1227.1 1246.5 1228.1 1249.1 1229 1246.7 1229.8 1248.3 1230.6 1245 1231.5 1243.4 1232.3 1244.1 1233 1243.2 1235.1 1254.2 1236.9 1250 1238.7 1244.6 1241.1 1256.6 1243.1 1250 1244.9 1244.6 1246.9 1255 1248.8 1246 1249.6 1248.3 1250.4 1246.7 1251.3 1249.3 1253 1245.7 1255 1256.2 1255.8 1249.9 1256.7 1255.1 1257.6 1249.7 1261.2 1260.3 1262.1 1253.8 1262.9 1259.9 1263.8 1253.2 1264.6 1254.1 1265.4 1253.4 1266.2 1254.3 1267.1 1249.7 1267.9 1254.1 1268.8 1248.8 1269.6 1247.1 1270.4 1247.9 1271.2 1246.9 1272.1 1253.7 1272.9 1247.6 1273.8 1255 1274.8 1247.6 1275.8 1253.7 1276.9 1246.2 1277.9 1253.7 1279 1247.6 1280 1255 1283.1 1241 1285 1249 1285.9 1246.7 1286.6 1248.3 1287.5 1245.9 1290 1254 1290.8 1249.7 1291.7 1254.1 1292.6 1249.1 1293.3 1249.6 1294.2 1249.2 1295 1250 1295.9 1253.3 1296.6 1251.7 1297.5 1254.1 1300 1245.9 1300.9 1248.3 1301.6 1246.7 1302.5 1249 1303.4 1246.7 1304.1 1248.3 1305 1246 1305.9 1248.3 1306.6 1246.7 1307.5 1249.1 1308.4 1247.5 1309.1 1248.7 1310 1246.9 1311.1 1248.9 1312.1 1247.4 1313.1 1250 1314.2 1253.5 1315.2 1251.5 1316.2 1254.2 1317.3 1251.5 1318.3 1253.5 1319.5 1250.4 1320.4 1250.9 1321.5 1250.3 1322.4 1250.8 1323.3 1243.8 1324.2 1249.9 1325 1242.5 1326.1 1239.9 1327.1 1241.4 1328.1 1239.5 1330.7 1249.3 1331.7 1247.4 1332.7 1248.9 1333.7 1246.9 1334.6 1248.7 1335.4 1247.5 1336.3 1249.2 1340 1237 1341.3 1240.8 1342.5 1238 1343.7 1241.5 1344.8 1235.1 1345.8 1241.2 1346.9 1234.8 1350 1245.6 1350.9 1244.6 1351.6 1245.4 1352.5 1243.8 1353.3 1242.9 1354.2 1243.3 1355 1242.5 1355.9 1240.9 1356.6 1241.6 1357.5 1240 1358.3 1234.7 1359.2 1239.1 1360 1233.8 1360.8 1239.1 1361.7 1234.7 1362.5 1239 1363.6 1236.5 1364.6 1238.5 1365.6 1235.8 1366.7 1238.5 1367.7 1236.5 1368.8 1240 1373.1 1250.6 1374.2 1246.8 1375.2 1249.4 1376.2 1245 1380 1233.2 1381.7 1238.2 1383.3 1234.3 1385.1 1239.6 1387.1 1238 1389.2 1239.5 1391.2 1237.5 1392.7 1231.9 1394.1 1235.6 1395.7 1230.7 1397.1 1233.7 1398.5 1231.3 1399.9 1234.2 1400.8 1229.7 1401.7 1234.1 1402.5 1228.8 1403.3 1236.2 1404.2 1230.1 1405 1237.5 1405.8 1231.1 1406.7 1236.4 1407.6 1231 1408.6 1233.5 1409.6 1231.5 1410.6 1234 1411.7 1228.6 1412.7 1233.9 1413.8 1227.5 1414.6 1226.7 1415.4 1227.1 1416.1 1226.6 1417.1 1231.6 1417.9 1227.2 1418.8 1232.5 1420.5 1233.4 1421.9 1222.5 1422.9 1220.8 1423.9 1221.7 1425 1220 1426.1 1216.5 1427.1 1218.5 1428.1 1215.8 1431.2 1225.4 1434.4 1207.5 1436.2 1220 1437.1 1212.6 1437.9 1218.7 1438.8 1212.2 1441.8 1220.5 1446.3 1202.1 1448.8 1212.5 1451 1193.8 1453.8 1206.2 1455.6 1186.2 1457.1 1181.6 1458.5 1184.6 1460.1 1180.6 1461.1 1181.7 1462.1 1180.8 1463.1 1182.5 1465.6 1195 1468.8 1158.1 1470.9 1157.2 1473.8 1174.4 1475.6 1151.2 1477.5 1150 1481 1105.6 1482.8 1122.5 1485 1091.2 1487.5 1080 1490 1048.8 1492.5 1090 1494.8 1091.2 1496.2 1133.8 1498.1 1150 1499.4 1192.5 1501.9 1207.5 1504.4 1220 1507.8 1200.8 1510 1207.5 1511.2 1232.5 1512.5 1282.5 1513.8 1326.2 1515.6 1345"/>
<path class="exp" clip-path="url(#clip-d)" d="M979.4 990 983.1 839.4 989.4 1000 991.2 1035 993.1 1052.5 995 1096.9 997.2 1045.5 999 1047.5 1001.2 1058.8 1003.1 1082.5 1005.6 1073.8 1007.1 1132.5 1009.4 1075 1011.2 1111.2 1013.1 1098.8 1015.6 1141.2 1017.5 1092.5 1019.8 1085 1021.5 1108.8 1023.8 1087.5 1025 1051.2 1026.9 1076.2 1028.8 1051.2 1031.2 1081.2 1033.8 1014.4 1035.6 1023.8 1037.5 1082.5 1039.4 1070 1041.5 1106.2 1043.6 1118.9 1045.4 1113.8 1047.5 1165 1049.4 1145.6 1051.7 1173.1 1054.5 1170.7 1056.9 1197.5 1059 1186.2 1061.2 1171.2 1063.5 1185 1065.6 1141.2 1068.8 1162.5 1071.2 1198.1 1073.8 1201.9 1075.6 1210 1077.9 1231.9 1079.6 1231.8 1081.2 1188.8 1083.2 1184.5 1085.6 1215 1087.6 1220.2 1091.2 1195 1093.5 1218.8 1095.5 1218.6 1097.5 1183.1 1101.2 1211.2 1103.5 1216.2 1105.2 1241.2 1107.2 1201.2 1109.4 1255.6 1111.8 1217.9 1113.6 1219.6 1115.6 1212.5 1117.8 1167.5 1120 1188.8 1121.9 1220 1123.8 1230 1125.4 1284.4 1127.5 1236.2 1129.4 1260 1131.2 1240 1133.5 1200.6 1135.2 1232.5 1137.5 1242.5 1139.6 1209.4 1141.9 1227.5 1143.8 1212.5 1145.6 1190.6 1147.5 1225 1149.6 1212.5 1151.5 1245 1153.4 1278.1 1155.6 1200.6 1157.8 1245 1159.4 1242.5 1161.9 1234.8 1163.6 1237.7 1165.6 1225 1167.5 1210 1169.4 1262.5 1171.5 1147.5 1173.5 1266.2 1175.2 1245 1177.5 1270 1179.4 1253.8 1181.5 1288.8 1183.5 1242.5 1185.6 1287.5 1187.5 1240 1189.6 1305 1191.9 1200 1193.8 1166.2 1197.1 1221.2 1199.6 1193.8 1201.9 1260 1205.2 1278.8 1207.6 1228 1209.4 1230 1211.5 1277.5 1215.6 1227.5 1217.5 1242.5 1219.6 1233.7 1221 1235 1223.8 1203.8 1225.2 1267.5 1227.3 1272.2 1230.7 1248.8 1234.4 1247.5 1237.5 1230 1239.8 1192.5 1241.9 1238.8 1244 1206.2 1246.2 1217.5 1248.4 1221.2 1249.4 1278.8 1251.6 1273.6 1253.8 1302.5 1256 1247.5 1258.1 1288.1 1259.8 1231.2 1261.9 1251.2 1263.8 1236.9 1265.6 1253.8 1267.8 1223.9 1269.4 1224.2 1271.9 1188.8 1274 1227.5 1278.1 1285 1283.8 1207.5 1285.6 1230 1287.8 1218.8 1290 1231.2 1291.9 1262.9 1294.4 1260 1296 1233.1 1298.1 1262.5 1300 1211.2 1302.1 1278.1 1304.4 1246.2 1306.4 1258.4 1308.1 1255 1311.9 1234.4 1313.8 1280.6 1316 1180 1320 1245 1323.8 1226.9 1327.5 1242.5 1329.8 1245.8 1332.2 1179.4 1334.1 1266.2 1336 1279.4 1338.1 1223.8 1340 1217.5 1342.2 1256.2 1348.1 1201.2 1352.2 1265 1354.7 1243.1 1356.2 1243.8 1358.3 1260.6 1359.9 1258.2 1362.1 1268.8 1364.4 1184.4 1367.2 1231.9 1368.5 1231.9 1370 1248.1 1372.2 1184.4 1374.4 1232.5 1376 1247.5 1378.1 1220 1380.2 1153.8 1382.5 1250 1384.4 1217.5 1386.2 1255 1388.5 1217.5 1390.2 1262.5 1392.2 1275.6 1394.4 1220 1396.2 1210.6 1398.1 1235 1400.4 1171.8 1402.2 1173.8 1404.4 1151.2 1407.5 1215 1409.4 1225 1412.5 1206.2 1414.4 1221.2 1418.5 1196.2 1420.6 1180.6 1422.5 1215 1425 1206.2 1428.5 1147.5 1430.6 1215 1432.5 1140 1434.4 1098.8 1436.2 1122.5 1437.9 1095 1440 1102.5 1442.2 1144.4 1444.4 1068.1 1446.5 1147.5 1448.1 1083.8 1450.3 1079.9 1453.5 1112 1454.7 1112.4 1456.9 1143.8 1458.1 1222.5 1460 1182.5 1461.9 1245 1464.4 1293.1 1466.5 1243.1 1468.5 1301.2 1470.6 1307.5 1475.2 1346 1476.6 1346 1478.8 1328.8 1480.6 1346.2 1482.5 1300.6 1488.8 1322.5 1491.3 1346.8 1493.1 1346.2 1494.4 1336.2 1496.8 1346.8 1498.8 1346.2 1500.6 1300.6 1502.6 1336.1 1504.9 1337 1506.7 1347.2 1510.8 1347.2 1512.5 1335 1514.4 1333.8 1516.9 1275.6 1519.1 1305 1520.7 1303.8 1523.5 1347.5 1528.8 1356.2 1534.2 1347.5 1536.8 1332 1539.4 1336.2 1541 1347.5 1546.2 1356.1 1550.4 1347.5 1551.9 1325 1554.6 1321.3 1556.6 1329.1 1559.4 1324.4"/>
<path class="mn" d="M1020.3 1344.7v-7.7M1059.3 1344.7v-7.7M1098.3 1344.7v-7.7M1137.3 1344.7v-7.7M1215.3 1344.7v-7.7M1254.3 1344.7v-7.7M1293.3 1344.7v-7.7M1332.3 1344.7v-7.7M1410.3 1344.7v-7.7M1449.3 1344.7v-7.7M1488.3 1344.7v-7.7M1527.3 1344.7v-7.7M961.8 1307.8h7.7M961.8 1270.8h7.7M961.8 1233.9h7.7M961.8 1196.9h7.7M961.8 1123h7.7M961.8 1086.1h7.7M961.8 1049.1h7.7M961.8 1012.2h7.7M961.8 938.3h7.7M961.8 901.3h7.7M961.8 864.4h7.7M961.8 827.4h7.7"/>
<path class="mj" d="M981.3 1344.7v-13.5M1176.3 1344.7v-13.5M1371.3 1344.7v-13.5M1566.3 1344.7v-13.5M961.8 1160h13.5M961.8 975.2h13.5"/>
<rect class="fr" x="961.8" y="790.5" width="624" height="554.2"/>
<text class="tk" text-anchor="middle" transform="translate(981.1 1387.7) scale(0.98 1.04)">0</text>
<text class="tk" text-anchor="middle" transform="translate(1176.1 1387.7) scale(0.98 1.04)">100</text>
<text class="tk" text-anchor="middle" transform="translate(1371.1 1387.7) scale(0.98 1.04)">200</text>
<text class="tk" text-anchor="middle" transform="translate(1566.1 1387.7) scale(0.98 1.04)">300</text>
<text class="tk" text-anchor="end" transform="translate(953.3 1359.4) scale(0.98 1.04)">0</text>
<text class="tk" text-anchor="end" transform="translate(953.3 1174.7) scale(0.98 1.04)">0.005</text>
<text class="tk" text-anchor="end" transform="translate(953.3 989.9) scale(0.98 1.04)">0.01</text>
<text class="tk" text-anchor="end" transform="translate(953.3 805.2) scale(0.98 1.04)">0.015</text>
<text class="ax" text-anchor="middle" transform="translate(1274 1428.1) scale(0.988 1.03)">Energy (eV)</text>
<text class="ax" text-anchor="middle" transform="translate(839.8 1067.6) rotate(-90) scale(0.988 1.03)">IEDF (a.u.)</text>
<path class="sim" style="stroke-width:3" d="M1296.9 815H1420.5"/>
<path class="exp" style="stroke-width:3" d="M1296.9 848H1420.5"/>
<text class="lg" transform="translate(1441.2 823.2) scale(0.985 1.05)">Simulation</text>
<text class="lg" transform="translate(1441.2 856.1) scale(0.985 1.05)">Experiment</text>
<text class="cp" text-anchor="middle" transform="translate(1216.8 1496.7) scale(0.97 1.08)" word-spacing="4" letter-spacing="0.3"><tspan dx="1.2">(d)</tspan> <tspan dx="1.2">280</tspan> <tspan dx="-3">V</tspan></text>
</g>
</svg>
</body>
</html>
